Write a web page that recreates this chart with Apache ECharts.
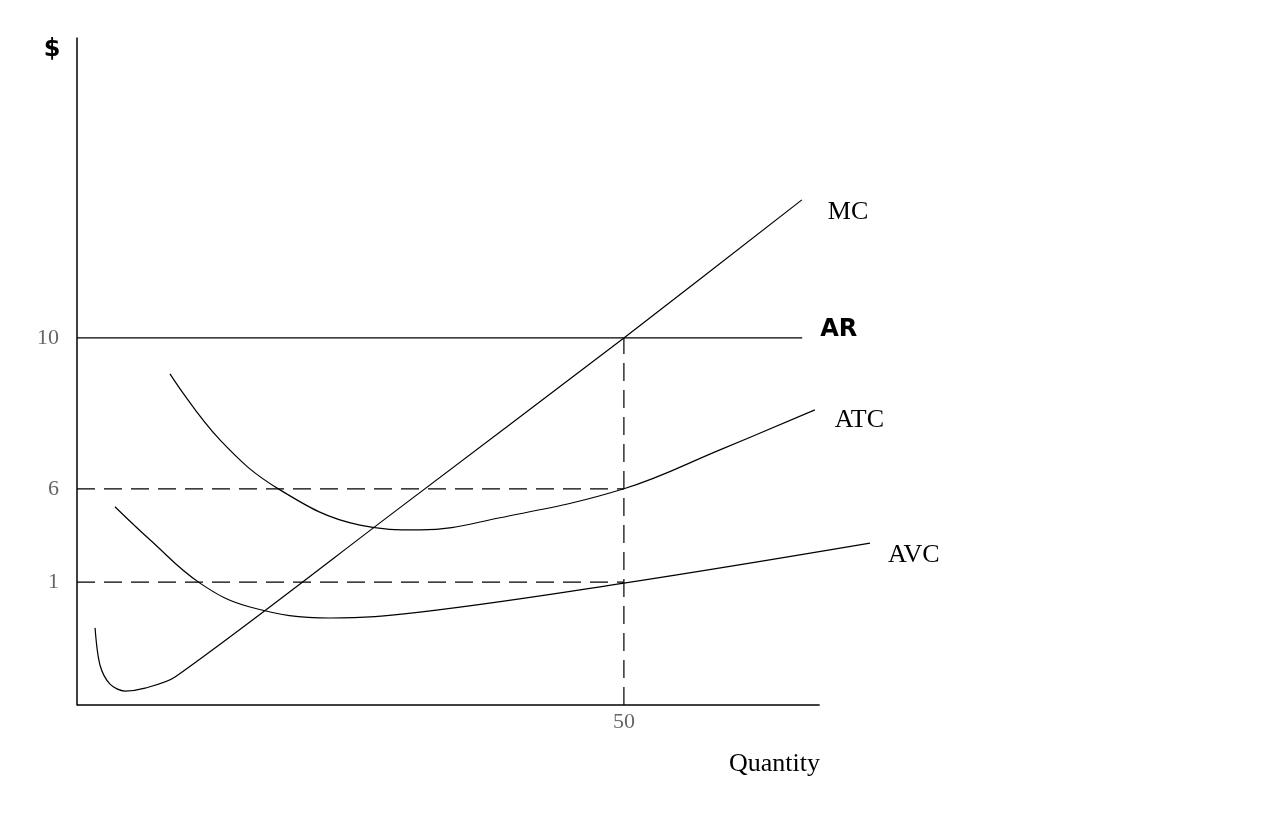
<!DOCTYPE html>
<html>
<head>
<meta charset="utf-8">
<script src="https://cdn.jsdelivr.net/npm/echarts@6/dist/echarts.min.js"></script>
<style>
  html, body { margin: 0; padding: 0; background: #fff; }
  #main { width: 1272px; height: 814px; }
</style>
</head>
<body>
<div id="main"></div>
<script>
// y values are in drawing units (the axis of the sketch is not to scale)
var yTickPos = [10, 5.89, 3.35];
var yTickText = ['10', '6', '1'];
var xTickPos = [50];
var xTickText = ['50'];

var mcData = [[1.65, 2.10], [2.10, 1.09], [3.02, 0.57], [4.39, 0.38], [6.22, 0.46], [8.96, 0.76], [29.5, 5.37], [50, 10], [66.27, 13.76]];
var atcData = [[8.50, 9.02], [13.07, 7.22], [18.56, 5.86], [25.87, 4.90], [31.35, 4.77], [38.67, 5.10], [50, 5.89], [58.78, 6.95], [67.46, 8.04]];
var avcData = [[3.47, 5.40], [6.67, 4.50], [11.24, 3.32], [15.81, 2.67], [23.13, 2.37], [31.35, 2.53], [50, 3.32], [72.5, 4.41]];
var arData = [[0, 10], [66.3, 10]];
var xAxisLine = [[0, 0], [67.9, 0]];
var guide6 = [[0, 5.89], [50, 5.89]];
var guide1 = [[0, 3.35], [50, 3.35]];
var guide50 = [[50, 0], [50, 10]];

var chart = echarts.init(document.getElementById('main'));

function curve(name, data, smooth, label, offset, fontStyle, width) {
    return {
        name: name,
        type: 'line',
        data: data,
        smooth: smooth,
        symbol: 'none',
        clip: false,
        lineStyle: { color: '#000', width: width || 1.2 },
        endLabel: {
            show: !!label,
            formatter: label,
            offset: offset,
            color: '#000',
            fontFamily: fontStyle.family,
            fontWeight: fontStyle.weight,
            fontSize: fontStyle.size
        }
    };
}

function guide(data) {
    return {
        type: 'line',
        data: data,
        symbol: 'none',
        clip: false,
        lineStyle: { color: '#000', width: 1.2, type: [18, 9] }
    };
}

var serif = { family: 'Liberation Serif', weight: 'normal', size: 26 };

chart.setOption({
    animation: false,
    title: {
        text: 'Quantity', left: 724, top: 746,
        textStyle: { fontFamily: 'Liberation Serif', fontWeight: 'normal', fontSize: 26, color: '#000' }
    },
    grid: { left: 77, top: 38, right: 402, bottom: 109 },
    xAxis: {
        type: 'value', min: 0, max: 72.5,
        axisLine: { show: false },
        axisTick: { show: false },
        splitLine: { show: false },
        axisLabel: {
            customValues: xTickPos,
            formatter: function (v) { return xTickText[xTickPos.indexOf(v)]; },
            fontFamily: 'Liberation Serif', fontSize: 22, color: '#666', margin: 6
        }
    },
    yAxis: {
        type: 'value', min: 0, max: 18.17,
        name: '$', nameLocation: 'end', nameGap: 0,
        nameTextStyle: { fontFamily: 'DejaVu Sans', fontWeight: 'bold', fontSize: 24, color: '#000', padding: [0, 50, 0, 0], verticalAlign: 'top' },
        axisLine: { show: true, lineStyle: { color: '#000', width: 1.5 } },
        axisTick: { show: false },
        splitLine: { show: false },
        axisLabel: {
            customValues: yTickPos,
            formatter: function (v) { return yTickText[yTickPos.indexOf(v)]; },
            fontFamily: 'Liberation Serif', fontSize: 22, color: '#666', margin: 18
        }
    },
    series: [
        curve('axis', xAxisLine, false, '', [0, 0], serif, 1.5),
        curve('AR', arData, false, 'AR', [10, -8], { family: 'DejaVu Sans', weight: 'bold', size: 24 }),
        curve('MC', mcData, 0.3, 'MC', [18, 12], serif),
        curve('ATC', atcData, 0.4, 'ATC', [12, 10], serif),
        curve('AVC', avcData, 0.4, 'AVC', [10, 12], serif),
        guide(guide6),
        guide(guide1),
        guide(guide50)
    ]
});
</script>
</body>
</html>
